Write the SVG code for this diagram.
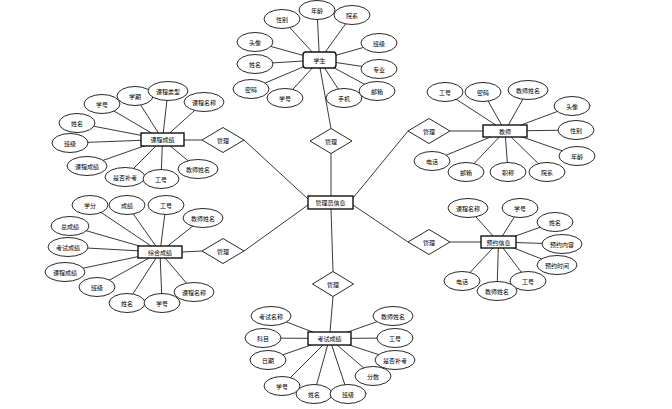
<svg xmlns="http://www.w3.org/2000/svg" width="672" height="409" viewBox="0 0 672 409">
<style>
.l{stroke:#222;stroke-width:0.9;fill:none}
.a{fill:#fff;stroke:#111;stroke-width:0.9}
.e{fill:#fff;stroke:#111;stroke-width:1.4}
.d{fill:#fff;stroke:#111;stroke-width:0.9}
text{font-family:"Noto Sans CJK SC","Noto Sans",sans-serif;font-size:6px;text-anchor:middle;dominant-baseline:central;fill:#000}
</style>
<rect width="672" height="409" fill="#fff"/>
<g id="connectors">
<!-- student -->
<path class="l" d="M319.5,60L282,19M319.5,60L317,10M319.5,60L352,15M319.5,60L255,42M319.5,60L379,43M319.5,60L255,64M319.5,60L379,69M319.5,60L251,89M319.5,60L285,98M319.5,60L344,98M319.5,60L377,91"/>
<path class="l" d="M320,68L331,128.5M331,153.5L331,196"/>
<!-- exam -->
<path class="l" d="M331,209L333,271.5M333,296.5L330,332"/>
<path class="l" d="M329.5,338.5L271,316M329.5,338.5L263,338M329.5,338.5L268,360M329.5,338.5L282,386M329.5,338.5L314,394M329.5,338.5L348,394M329.5,338.5L373,376M329.5,338.5L395,360M329.5,338.5L395,338M329.5,338.5L393,316"/>
<!-- teacher -->
<path class="l" d="M353,198L408,131M450,131L483,131"/>
<path class="l" d="M505,131L445,92M505,131L483,92M505,131L528,90M505,131L572,106M505,131L576,130M505,131L577,156M505,131L547,172M505,131L508,172M505,131L466,172M505,131L432,161"/>
<!-- appointment -->
<path class="l" d="M353,205L408,242M450,242L481,242"/>
<path class="l" d="M498.5,242L468,208M498.5,242L520,208M498.5,242L555,222M498.5,242L562,244M498.5,242L557,265M498.5,242L528,281M498.5,242L497,291M498.5,242L462,281"/>
<!-- course grade -->
<path class="l" d="M308,199L244,140M184,140L202,140"/>
<path class="l" d="M162.5,139.5L102,104M162.5,139.5L135,96M162.5,139.5L168,91M162.5,139.5L204,102M162.5,139.5L77,123M162.5,139.5L70,143M162.5,139.5L87,166M162.5,139.5L125,177M162.5,139.5L161,179M162.5,139.5L198,169"/>
<!-- composite -->
<path class="l" d="M308,205L244,251M182,252L202,251"/>
<path class="l" d="M160,252L90,205M160,252L127,205M160,252L166,205M160,252L203,218M160,252L70,226M160,252L68,247M160,252L65,272M160,252L97,287M160,252L127,303M160,252L162,303M160,252L194,292"/>
</g>

<!-- entities -->
<g id="e-student"><rect class="e" x="303" y="52" width="33" height="16" rx="3"/><text x="319.5" y="60">学生</text></g>
<g id="e-admin"><rect class="e" x="308" y="196" width="45" height="13"/><text x="330.5" y="202.5">管理员信息</text></g>
<g id="e-exam"><rect class="e" x="308" y="332" width="43" height="13"/><text x="329.5" y="338.5">考试成绩</text></g>
<g id="e-teacher"><rect class="e" x="483" y="125" width="44" height="12"/><text x="505" y="131">教师</text></g>
<g id="e-appoint"><rect class="e" x="481" y="236" width="35" height="12"/><text x="498.5" y="242">预约信息</text></g>
<g id="e-course"><rect class="e" x="141" y="133" width="43" height="13"/><text x="162.5" y="139.5">课程成绩</text></g>
<g id="e-composite"><rect class="e" x="138" y="246" width="44" height="12"/><text x="160" y="252">综合成绩</text></g>

<!-- relationships -->
<g id="r-top"><polygon class="d" points="310,141 331,128.5 352,141 331,153.5"/><text x="331" y="141">管理</text></g>
<g id="r-bottom"><polygon class="d" points="312.5,284 333,271.5 353.5,284 333,296.5"/><text x="333" y="284">管理</text></g>
<g id="r-rt"><polygon class="d" points="408,131 429,118.5 450,131 429,143.5"/><text x="429" y="131">管理</text></g>
<g id="r-rb"><polygon class="d" points="408,242 429,229.5 450,242 429,254.5"/><text x="429" y="242">管理</text></g>
<g id="r-lt"><polygon class="d" points="202,140 223,127.5 244,140 223,152.5"/><text x="223" y="140">管理</text></g>
<g id="r-lb"><polygon class="d" points="202,251 223,238.5 244,251 223,263.5"/><text x="223" y="251">管理</text></g>

<!-- student attrs -->
<g id="s1"><ellipse class="a" cx="282" cy="19" rx="18" ry="9.5"/><text x="282" y="19">性别</text></g>
<g id="s2"><ellipse class="a" cx="317" cy="10" rx="18" ry="9.5"/><text x="317" y="10">年龄</text></g>
<g id="s3"><ellipse class="a" cx="352" cy="15" rx="18" ry="9.5"/><text x="352" y="15">院系</text></g>
<g id="s4"><ellipse class="a" cx="255" cy="42" rx="18" ry="9.5"/><text x="255" y="42">头像</text></g>
<g id="s5"><ellipse class="a" cx="379" cy="43" rx="18" ry="9.5"/><text x="379" y="43">班级</text></g>
<g id="s6"><ellipse class="a" cx="255" cy="64" rx="18" ry="9.5"/><text x="255" y="64">姓名</text></g>
<g id="s7"><ellipse class="a" cx="379" cy="69" rx="18" ry="9.5"/><text x="379" y="69">专业</text></g>
<g id="s8"><ellipse class="a" cx="251" cy="89" rx="18" ry="9.5"/><text x="251" y="89">密码</text></g>
<g id="s9"><ellipse class="a" cx="285" cy="98" rx="18" ry="9.5"/><text x="285" y="98">学号</text></g>
<g id="s10"><ellipse class="a" cx="344" cy="98" rx="18" ry="9.5"/><text x="344" y="98">手机</text></g>
<g id="s11"><ellipse class="a" cx="377" cy="91" rx="18" ry="9.5"/><text x="377" y="91">邮箱</text></g>

<!-- exam attrs -->
<g id="x1"><ellipse class="a" cx="271" cy="316" rx="20" ry="9.5"/><text x="271" y="316">考试名称</text></g>
<g id="x2"><ellipse class="a" cx="263" cy="338" rx="18" ry="9.5"/><text x="263" y="338">科目</text></g>
<g id="x3"><ellipse class="a" cx="268" cy="360" rx="18" ry="9.5"/><text x="268" y="360">日期</text></g>
<g id="x4"><ellipse class="a" cx="282" cy="386" rx="18" ry="9.5"/><text x="282" y="386">学号</text></g>
<g id="x5"><ellipse class="a" cx="314" cy="394" rx="18" ry="9.5"/><text x="314" y="394">姓名</text></g>
<g id="x6"><ellipse class="a" cx="348" cy="394" rx="18" ry="9.5"/><text x="348" y="394">班级</text></g>
<g id="x7"><ellipse class="a" cx="373" cy="376" rx="18" ry="9.5"/><text x="373" y="376">分数</text></g>
<g id="x8"><ellipse class="a" cx="395" cy="360" rx="20" ry="9.5"/><text x="395" y="360">是否补考</text></g>
<g id="x9"><ellipse class="a" cx="395" cy="338" rx="18" ry="9.5"/><text x="395" y="338">工号</text></g>
<g id="x10"><ellipse class="a" cx="393" cy="316" rx="20" ry="9.5"/><text x="393" y="316">教师姓名</text></g>

<!-- teacher attrs -->
<g id="t1"><ellipse class="a" cx="445" cy="92" rx="18" ry="9.5"/><text x="445" y="92">工号</text></g>
<g id="t2"><ellipse class="a" cx="483" cy="92" rx="18" ry="9.5"/><text x="483" y="92">密码</text></g>
<g id="t3"><ellipse class="a" cx="528" cy="90" rx="20" ry="9.5"/><text x="528" y="90">教师姓名</text></g>
<g id="t4"><ellipse class="a" cx="572" cy="106" rx="18" ry="9.5"/><text x="572" y="106">头像</text></g>
<g id="t5"><ellipse class="a" cx="576" cy="130" rx="18" ry="9.5"/><text x="576" y="130">性别</text></g>
<g id="t6"><ellipse class="a" cx="577" cy="156" rx="18" ry="9.5"/><text x="577" y="156">年龄</text></g>
<g id="t7"><ellipse class="a" cx="547" cy="172" rx="18" ry="9.5"/><text x="547" y="172">院系</text></g>
<g id="t8"><ellipse class="a" cx="508" cy="172" rx="18" ry="9.5"/><text x="508" y="172">职称</text></g>
<g id="t9"><ellipse class="a" cx="466" cy="172" rx="18" ry="9.5"/><text x="466" y="172">邮箱</text></g>
<g id="t10"><ellipse class="a" cx="432" cy="161" rx="18" ry="9.5"/><text x="432" y="161">电话</text></g>

<!-- appointment attrs -->
<g id="p1"><ellipse class="a" cx="468" cy="208" rx="20" ry="9.5"/><text x="468" y="208">课程名称</text></g>
<g id="p2"><ellipse class="a" cx="520" cy="208" rx="18" ry="9.5"/><text x="520" y="208">学号</text></g>
<g id="p3"><ellipse class="a" cx="555" cy="222" rx="18" ry="9.5"/><text x="555" y="222">姓名</text></g>
<g id="p4"><ellipse class="a" cx="562" cy="244" rx="20" ry="9.5"/><text x="562" y="244">预约内容</text></g>
<g id="p5"><ellipse class="a" cx="557" cy="265" rx="20" ry="9.5"/><text x="557" y="265">预约时间</text></g>
<g id="p6"><ellipse class="a" cx="528" cy="281" rx="18" ry="9.5"/><text x="528" y="281">工号</text></g>
<g id="p7"><ellipse class="a" cx="497" cy="291" rx="20" ry="9.5"/><text x="497" y="291">教师姓名</text></g>
<g id="p8"><ellipse class="a" cx="462" cy="281" rx="18" ry="9.5"/><text x="462" y="281">电话</text></g>

<!-- course grade attrs -->
<g id="c1"><ellipse class="a" cx="102" cy="104" rx="18" ry="9.5"/><text x="102" y="104">学号</text></g>
<g id="c2"><ellipse class="a" cx="135" cy="96" rx="18" ry="9.5"/><text x="135" y="96">学期</text></g>
<g id="c3"><ellipse class="a" cx="168" cy="91" rx="20" ry="9.5"/><text x="168" y="91">课程类型</text></g>
<g id="c4"><ellipse class="a" cx="204" cy="102" rx="20" ry="9.5"/><text x="204" y="102">课程名称</text></g>
<g id="c5"><ellipse class="a" cx="77" cy="123" rx="18" ry="9.5"/><text x="77" y="123">姓名</text></g>
<g id="c6"><ellipse class="a" cx="70" cy="143" rx="18" ry="9.5"/><text x="70" y="143">班级</text></g>
<g id="c7"><ellipse class="a" cx="87" cy="166" rx="20" ry="9.5"/><text x="87" y="166">课程成绩</text></g>
<g id="c8"><ellipse class="a" cx="125" cy="177" rx="20" ry="9.5"/><text x="125" y="177">是否补考</text></g>
<g id="c9"><ellipse class="a" cx="161" cy="179" rx="18" ry="9.5"/><text x="161" y="179">工号</text></g>
<g id="c10"><ellipse class="a" cx="198" cy="169" rx="20" ry="9.5"/><text x="198" y="169">教师姓名</text></g>

<!-- composite attrs -->
<g id="m1"><ellipse class="a" cx="90" cy="205" rx="18" ry="9.5"/><text x="90" y="205">学分</text></g>
<g id="m2"><ellipse class="a" cx="127" cy="205" rx="18" ry="9.5"/><text x="127" y="205">成绩</text></g>
<g id="m3"><ellipse class="a" cx="166" cy="205" rx="18" ry="9.5"/><text x="166" y="205">工号</text></g>
<g id="m4"><ellipse class="a" cx="203" cy="218" rx="20" ry="9.5"/><text x="203" y="218">教师姓名</text></g>
<g id="m5"><ellipse class="a" cx="70" cy="226" rx="19" ry="9.5"/><text x="70" y="226">总成绩</text></g>
<g id="m6"><ellipse class="a" cx="68" cy="247" rx="20" ry="9.5"/><text x="68" y="247">考试成绩</text></g>
<g id="m7"><ellipse class="a" cx="65" cy="272" rx="20" ry="9.5"/><text x="65" y="272">课程成绩</text></g>
<g id="m8"><ellipse class="a" cx="97" cy="287" rx="18" ry="9.5"/><text x="97" y="287">班级</text></g>
<g id="m9"><ellipse class="a" cx="127" cy="303" rx="18" ry="9.5"/><text x="127" y="303">姓名</text></g>
<g id="m10"><ellipse class="a" cx="162" cy="303" rx="18" ry="9.5"/><text x="162" y="303">学号</text></g>
<g id="m11"><ellipse class="a" cx="194" cy="292" rx="20" ry="9.5"/><text x="194" y="292">课程名称</text></g>
</svg>
